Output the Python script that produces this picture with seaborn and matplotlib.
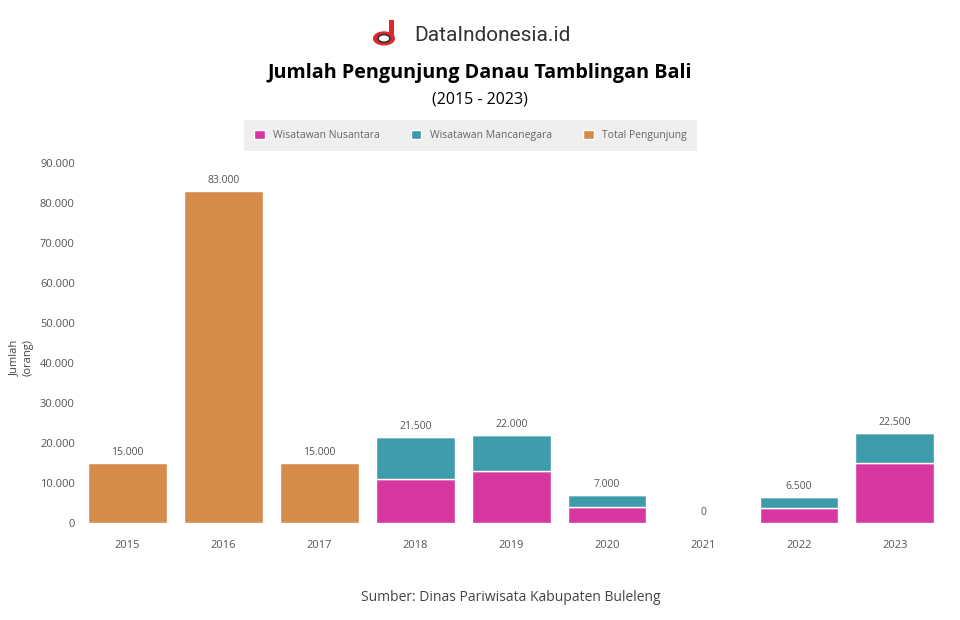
import numpy as np
import pandas as pd
import matplotlib
matplotlib.use("Agg")
import matplotlib.pyplot as plt
from matplotlib.ticker import FuncFormatter
from matplotlib.patches import Circle, Rectangle
import seaborn as sns

# data (visitors)
years = ["2015", "2016", "2017", "2018", "2019", "2020", "2021", "2022", "2023"]
nusantara = [0, 0, 0, 11000, 13000, 4000, 0, 3800, 15000]
mancanegara = [0, 0, 0, 10500, 9000, 3000, 0, 2700, 7500]
total_only = [15000, 83000, 15000, 0, 0, 0, 0, 0, 0]

labels = ["Wisatawan Nusantara", "Wisatawan Mancanegara", "Total Pengunjung"]
colors = ["#D6389F", "#3E9BAA", "#D58C4A"]

sns.set_theme(style="white")
plt.rcParams["font.family"] = ["Open Sans", "DejaVu Sans"]

df = pd.DataFrame({"tahun": years, "nus": nusantara, "man": mancanegara, "tot": total_only})
df["bottom2"] = df["nus"]
df["bottom3"] = df["nus"] + df["man"]

fig = plt.figure(figsize=(9.6, 6.2), dpi=100)
ax = fig.add_axes([0.083, 0.156, 0.899, 0.594])

sns.barplot(data=df, x="tahun", y="nus", color=colors[0], width=0.82,
            saturation=1, ax=ax, label=labels[0])
sns.barplot(data=df, x="tahun", y="man", bottom=df["bottom2"], color=colors[1],
            width=0.82, saturation=1, ax=ax, label=labels[1])
sns.barplot(data=df, x="tahun", y="tot", bottom=df["bottom3"], color=colors[2],
            width=0.82, saturation=1, ax=ax, label=labels[2])
if ax.get_legend() is not None:
    ax.get_legend().remove()

# totals above the bars
totals = df["nus"] + df["man"] + df["tot"]
for i, t in enumerate(totals):
    ax.text(i, t + 1200, f"{t:,.0f}".replace(",", "."), ha="center", va="bottom",
            fontsize=7.5, color="#555555")

ax.set_ylim(0, 92000)
ax.set_yticks(np.arange(0, 90001, 10000))
ax.yaxis.set_major_formatter(FuncFormatter(lambda v, p: f"{v:,.0f}".replace(",", ".")))
ax.tick_params(axis="both", labelsize=8, colors="#555555", length=0)
ax.tick_params(axis="x", pad=12)
ax.set_xlabel("Sumber: Dinas Pariwisata Kabupaten Buleleng", fontsize=10,
              color="#444444", labelpad=28)
ax.set_ylabel("Jumlah\n(orang)", fontsize=8, color="#444444")
ax.yaxis.set_label_coords(-0.054, 0.45)
sns.despine(ax=ax, left=True, bottom=True)
ax.grid(False)

# legend on a grey band
leg = fig.legend(handles=ax.containers, labels=labels, loc="center",
                 bbox_to_anchor=(0.49, 0.782), ncol=3, fontsize=7.5,
                 frameon=True, facecolor="#ebebeb", edgecolor="none",
                 handlelength=1.0, handleheight=1.0, columnspacing=3.0,
                 borderpad=0.95, fancybox=False)
for t in leg.get_texts():
    t.set_color("#666666")

# header
fig.text(0.5, 0.882, "Jumlah Pengunjung Danau Tamblingan Bali", ha="center",
         va="center", fontsize=14.2, fontweight="bold", color="black")
fig.text(0.5, 0.84, "(2015 - 2023)", ha="center", va="center", fontsize=11.5,
         color="black")
fig.text(0.432, 0.943, "DataIndonesia.id", ha="left", va="center",
         fontsize=15, color="#333333", family=["Roboto", "DejaVu Sans"])
# simple logo mark: red "d" with a magnifier ring
fig.patches.append(Circle((0.4, 0.938), 0.0115, transform=fig.transFigure,
                          facecolor="#E0262B", edgecolor="none"))
fig.patches.append(Rectangle((0.405, 0.932), 0.0055, 0.036, transform=fig.transFigure,
                             facecolor="#E0262B", edgecolor="none"))
fig.patches.append(Circle((0.4, 0.938), 0.0062, transform=fig.transFigure,
                          facecolor="white", edgecolor="#333333", lw=1.2))

fig.savefig("out.png", dpi=100, facecolor="white")
